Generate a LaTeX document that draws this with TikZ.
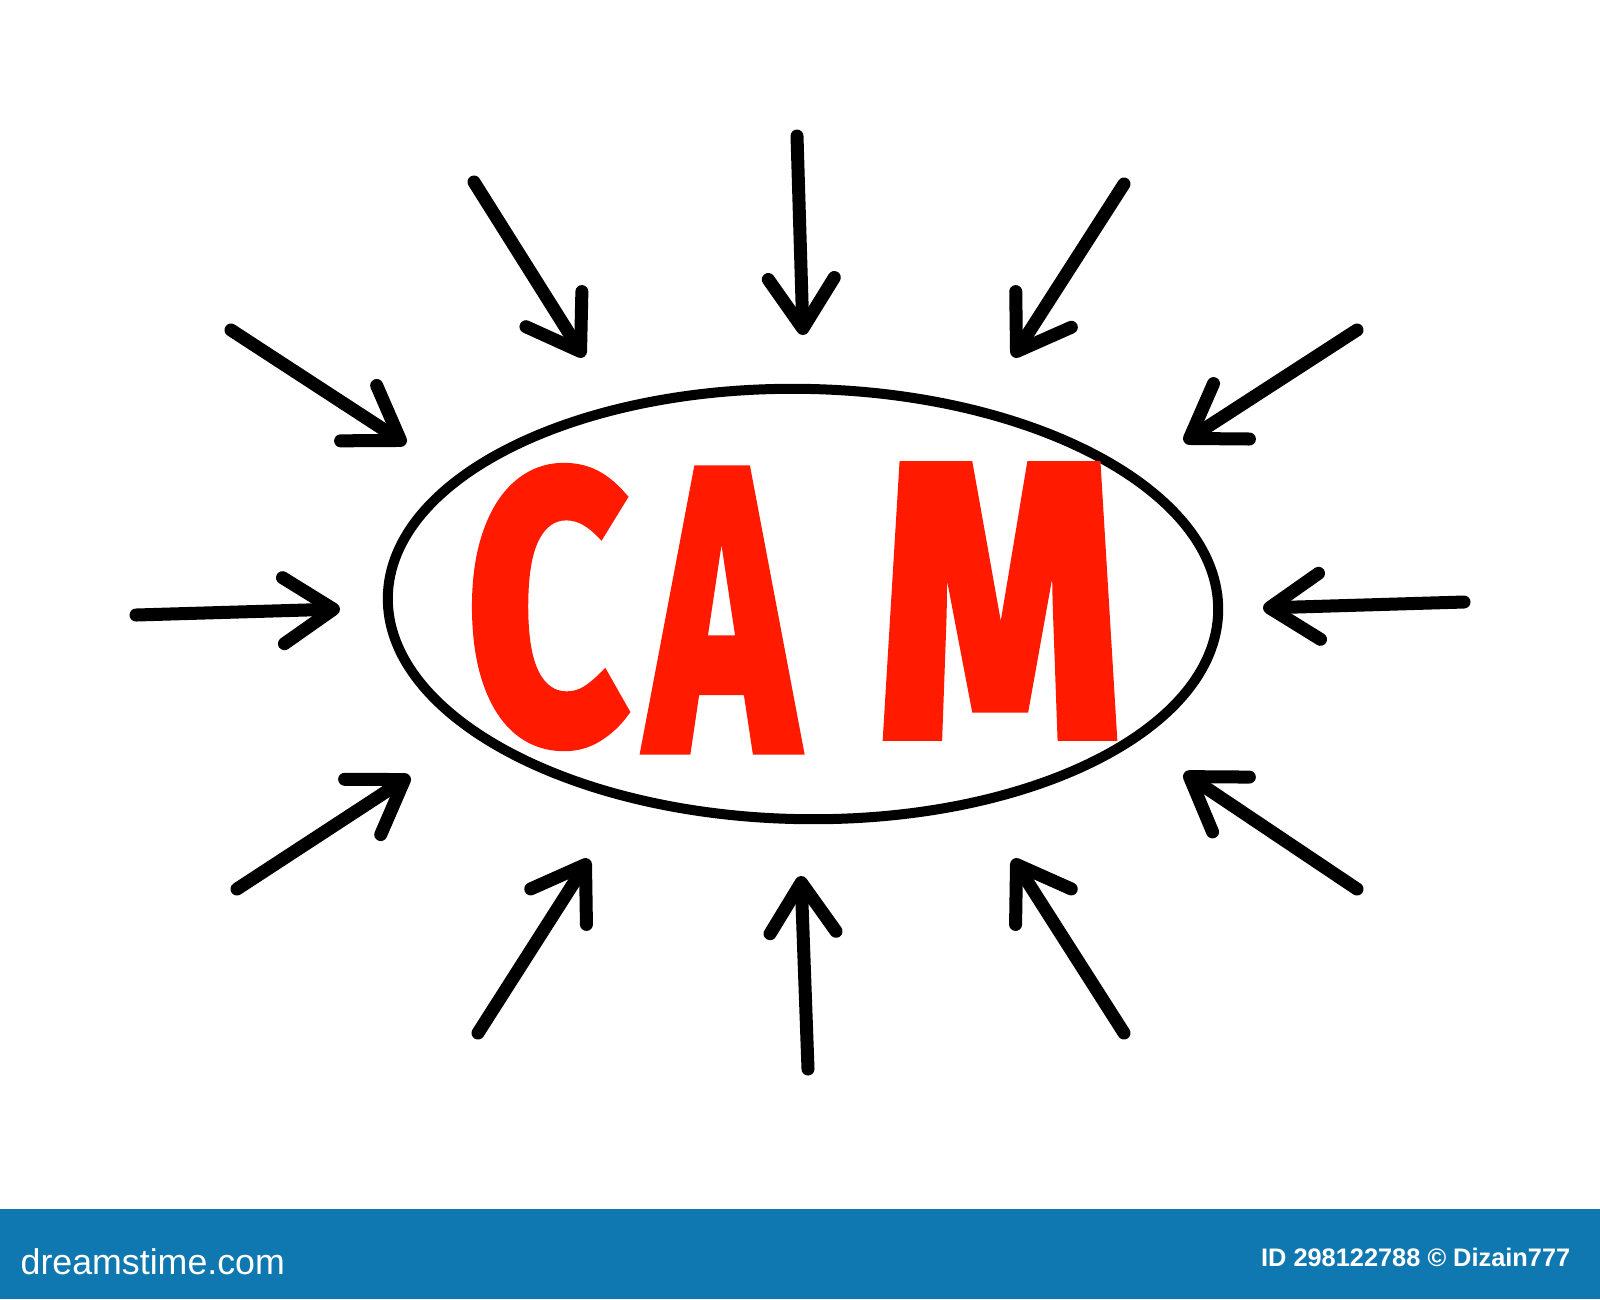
\documentclass[tikz,border=0pt]{standalone}
\usepackage{fontspec}
\usetikzlibrary{shapes.geometric,arrows.meta}
\newfontfamily\camfont{Fira Sans}[BoldFeatures={FakeBold=3}]
\newfontfamily\barfont{Liberation Sans}
\definecolor{camred}{RGB}{255,26,0}
\definecolor{barblue}{RGB}{16,120,176}

\begin{document}
\begin{tikzpicture}[
  x=0.01cm, y=-0.01cm,
  pointer/.style={draw=black, line width=0.13cm, line cap=round,
    -{Straight Barb[length=0.5cm,width=0.66cm,round]}},
  oval/.style={draw=black, ellipse, line width=0.1cm,
    minimum width=8.3cm, minimum height=4.3cm, inner sep=0pt},
  letter/.style={text=camred, inner sep=0pt},
  bartext/.style={text=white, inner sep=0pt}
  ]
	\useasboundingbox (0,0) rectangle (1600,1299);
	\fill[white] (0,0) rectangle (1600,1209);
	\fill[barblue] (0,1209) rectangle (1600,1299);

	% centre
	\node[oval, rotate=-1] (cam) at (803,604) {};
	\node[letter] (letterC) at (547,607)
	  {\resizebox{1.6cm}{2.7cm}{\camfont\bfseries C}};
	\node[letter] (letterA) at (722,610)
	  {\resizebox{1.48cm}{2.77cm}{\camfont\bfseries A}};
	\node[letter] (letterM) at (1000,601)
	  {\resizebox{2.45cm}{2.68cm}{\camfont\bfseries M}};

	% arrow tails
	\coordinate (t1) at (797,136);
	\coordinate (t2) at (474,182);
	\coordinate (t3) at (1124,184);
	\coordinate (t4) at (231,330);
	\coordinate (t5) at (1357,330);
	\coordinate (t6) at (136,615);
	\coordinate (t7) at (1464,602);
	\coordinate (t8) at (237,889);
	\coordinate (t9) at (1357,889);
	\coordinate (t10) at (478,1033);
	\coordinate (t11) at (808,1069);
	\coordinate (t12) at (1124,1033);

	% arrow heads
	\coordinate (h1) at (803,335);
	\coordinate (h2) at (584,357);
	\coordinate (h3) at (1013,357);
	\coordinate (h4) at (406,444);
	\coordinate (h5) at (1184,442);
	\coordinate (h6) at (340,609);
	\coordinate (h7) at (1263,608);
	\coordinate (h8) at (410,776);
	\coordinate (h9) at (1184,773);
	\coordinate (h10) at (589,859);
	\coordinate (h11) at (801,876);
	\coordinate (h12) at (1013,859);

	\draw[pointer] (t1) -- (h1);
	\draw[pointer] (t2) -- (h2);
	\draw[pointer] (t3) -- (h3);
	\draw[pointer] (t4) -- (h4);
	\draw[pointer] (t5) -- (h5);
	\draw[pointer] (t6) -- (h6);
	\draw[pointer] (t7) -- (h7);
	\draw[pointer] (t8) -- (h8);
	\draw[pointer] (t9) -- (h9);
	\draw[pointer] (t10) -- (h10);
	\draw[pointer] (t11) -- (h11);
	\draw[pointer] (t12) -- (h12);

	% footer
	\node[bartext, anchor=west] (site) at (20,1262)
	  {\resizebox{2.64cm}{!}{\barfont dreamstime.com}};
	\node[bartext, anchor=east] (credit) at (1571,1257)
	  {\resizebox{3.09cm}{!}{\barfont\bfseries ID 298122788 © Dizain777}};
\end{tikzpicture}
\end{document}
